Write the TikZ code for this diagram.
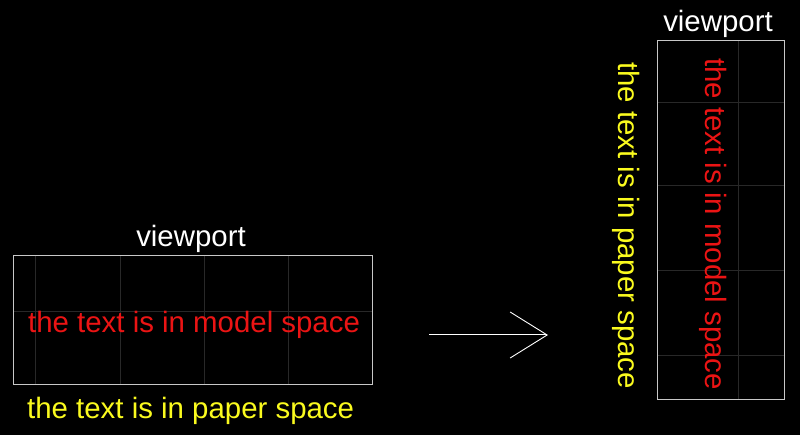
\documentclass[tikz,border=0pt]{standalone}
\usepackage{fontspec}
\setmainfont{Liberation Sans}
\usetikzlibrary{arrows.meta}
\definecolor{vpred}{RGB}{235,20,20}
\definecolor{vpyellow}{RGB}{250,250,30}
\definecolor{gridgray}{RGB}{40,40,40}
\definecolor{framegray}{RGB}{200,200,200}
\begin{document}
\begin{tikzpicture}[x=1pt,y=-1pt,
  lbl/.style={font=\fontsize{29.4}{33}\selectfont, inner sep=0pt},
  vframe/.style={draw=framegray, line width=1pt},
  gridline/.style={draw=gridgray, line width=0.8pt}]
\fill[black] (0,0) rectangle (800,435);
\useasboundingbox (0,0) rectangle (800,435);
% left viewport
\draw[gridline] (13,311) -- (372,311);
\foreach \gx in {35,120,204,288} \draw[gridline] (\gx,256) -- (\gx,384);
\node[vframe, inner sep=0pt, minimum width=359pt, minimum height=128pt] (vpL) at (192.5,320) {};
\node[lbl, white, anchor=base] (vpLtitle) at (191,247) {viewport};
\node[lbl, vpred, anchor=base west] (modelL) at (28,333) {the text is in model space};
\node[lbl, vpyellow, anchor=base west] (paperL) at (27,418) {the text is in paper space};
% arrow
\coordinate (arrA) at (429,335);
\coordinate (arrB) at (548,335);
\draw[white, line width=1pt, -{Straight Barb[length=37pt, width=46pt, line width=0.9pt]}] (arrA) -- (arrB);
% right viewport
\draw[gridline] (738,41) -- (738,399);
\foreach \gy in {102,185,270,355} \draw[gridline] (657,\gy) -- (784,\gy);
\node[vframe, inner sep=0pt, minimum width=127pt, minimum height=358pt] (vpR) at (720.5,220) {};
\node[lbl, white, anchor=base] (vpRtitle) at (718,32) {viewport};
\node[lbl, vpred, anchor=base west, rotate=-90] (modelR) at (705,58) {the text is in model space};
\node[lbl, vpyellow, anchor=base west, rotate=-90] (paperR) at (618,62) {the text is in paper space};
\end{tikzpicture}
\end{document}
